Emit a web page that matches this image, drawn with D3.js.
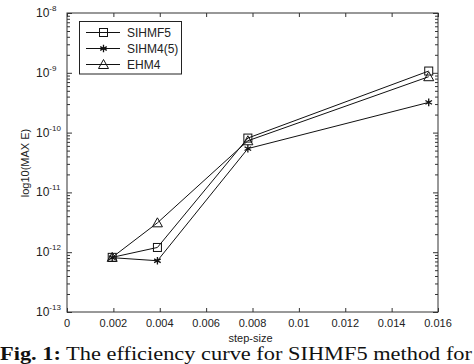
<!DOCTYPE html>
<html>
<head>
<meta charset="utf-8">
<script src="https://cdn.jsdelivr.net/npm/d3@7"></script>
<style>
body { margin: 0; background: #fff; }
svg { display: block; font-family: Arial, "Liberation Sans", sans-serif; }
</style>
</head>
<body>
<svg id="chart" width="474" height="364"></svg>
<script>
// step sizes and max errors
var stepSizes = [0.00195, 0.0039, 0.0078, 0.0156];
var sihmf5 = [8.2e-13, 1.2e-12, 8.1e-11, 1.07e-9];
var sihm45 = [8.1e-13, 7.2e-13, 5.4e-11, 3.2e-10];
var ehm4 = [8.2e-13, 3.1e-12, 7.3e-11, 8.6e-10];
var seriesNames = ['SIHMF5', 'SIHM4(5)', 'EHM4'];
var xTicks = [0, 0.002, 0.004, 0.006, 0.008, 0.01, 0.012, 0.014, 0.016];
var xLabels = ['0', '0.002', '0.004', '0.006', '0.008', '0.01', '0.012', '0.014', '0.016'];
var yTicks = [1e-13, 1e-12, 1e-11, 1e-10, 1e-9, 1e-8];
var yExps = ['-13', '-12', '-11', '-10', '-9', '-8'];

const svg = d3.select("#chart"),
  margin = {top: 13, right: 36, bottom: 52, left: 67},
  width = +svg.attr("width") - margin.left - margin.right,
  height = +svg.attr("height") - margin.top - margin.bottom,
  x = d3.scaleLinear().domain([0, 0.016]).range([0, width]),
  y = d3.scaleLog().domain([1e-13, 1e-8]).range([height, 0]),
  g = svg.append("g").attr("transform", `translate(${margin.left},${margin.top})`);

// minor log ticks
var minor = [];
yTicks.slice(0, -1).forEach(function(t){
  for (var k = 2; k <= 9; k++) minor.push(t * k);
});

function styleAxis(sel){
  sel.select(".domain").remove();
  sel.selectAll("line").attr("stroke", "#333").attr("stroke-width", 1);
}

g.append("g").attr("transform", `translate(0,${height})`)
  .call(d3.axisBottom(x).tickValues(xTicks).tickSizeInner(-4).tickSizeOuter(0).tickFormat(""))
  .call(styleAxis);
g.append("g")
  .call(d3.axisTop(x).tickValues(xTicks).tickSizeInner(-4).tickSizeOuter(0).tickFormat(""))
  .call(styleAxis);
g.append("g")
  .call(d3.axisLeft(y).tickValues(yTicks).tickSizeInner(-5).tickSizeOuter(0).tickFormat(""))
  .call(styleAxis);
g.append("g")
  .call(d3.axisLeft(y).tickValues(minor).tickSizeInner(-3).tickSizeOuter(0).tickFormat(""))
  .call(styleAxis);
g.append("g").attr("transform", `translate(${width},0)`)
  .call(d3.axisRight(y).tickValues(yTicks).tickSizeInner(-5).tickSizeOuter(0).tickFormat(""))
  .call(styleAxis);
g.append("g").attr("transform", `translate(${width},0)`)
  .call(d3.axisRight(y).tickValues(minor).tickSizeInner(-3).tickSizeOuter(0).tickFormat(""))
  .call(styleAxis);

g.append("rect")
  .attr("width", width).attr("height", height)
  .attr("fill", "none").attr("stroke", "#333").attr("stroke-width", 1);

// x tick labels
g.selectAll(".xlab").data(xTicks).enter().append("text")
  .attr("x", d => x(d)).attr("y", height + 15)
  .attr("text-anchor", "middle").attr("font-size", 11).attr("fill", "#222")
  .text((d, i) => xLabels[i]);

// y tick labels with superscript exponent
var yl = g.selectAll(".ylab").data(yTicks).enter().append("text")
  .attr("x", -31).attr("y", d => y(d) + 4)
  .attr("font-size", 12).attr("fill", "#222");
yl.append("tspan").text("10");
yl.append("tspan").attr("dy", -6).attr("font-size", 8).text((d, i) => yExps[i]);

svg.append("text")
  .attr("x", margin.left + x(0.008) - 2).attr("y", 342)
  .attr("text-anchor", "middle").attr("font-size", 11).attr("fill", "#222")
  .text("step-size");

svg.append("text")
  .attr("transform", "translate(29,163) rotate(-90)")
  .attr("text-anchor", "middle").attr("font-size", 11).attr("fill", "#222")
  .text("log10(MAX E)");

// lines
var allSeries = [sihmf5, sihm45, ehm4];
var line = d3.line().x((d, i) => x(stepSizes[i])).y(d => y(d));
allSeries.forEach(function(s){
  g.append("path").datum(s).attr("d", line)
    .attr("fill", "none").attr("stroke", "#111").attr("stroke-width", 1);
});

function drawMarker(sel, type, cx, cy){
  if (type === 0) {
    sel.append("rect").attr("x", cx - 4).attr("y", cy - 4).attr("width", 8).attr("height", 8)
      .attr("fill", "none").attr("stroke", "#111");
  } else if (type === 1) {
    sel.append("path").attr("d", d3.symbol().type(d3.symbolAsterisk).size(40)())
      .attr("transform", `translate(${cx},${cy})`)
      .attr("fill", "none").attr("stroke", "#111").attr("stroke-width", 1.3);
  } else {
    sel.append("path")
      .attr("d", `M${cx},${cy - 5}L${cx + 5},${cy + 4}L${cx - 5},${cy + 4}Z`)
      .attr("fill", "none").attr("stroke", "#111");
  }
}

allSeries.forEach(function(s, k){
  s.forEach(function(v, i){ drawMarker(g, k, x(stepSizes[i]), y(v)); });
});

// legend
var leg = svg.append("g");
leg.append("rect").attr("x", 79.5).attr("y", 21.5).attr("width", 102).attr("height", 52.5)
  .attr("fill", "#fff").attr("stroke", "#222");
seriesNames.forEach(function(name, k){
  var ly = 32.5 + k * 16;
  leg.append("line").attr("x1", 86).attr("x2", 120).attr("y1", ly).attr("y2", ly)
    .attr("stroke", "#111");
  drawMarker(leg, k, 103.5, ly);
  leg.append("text").attr("x", 127).attr("y", ly + 4.5)
    .attr("font-size", 12).attr("fill", "#222").text(name);
});

// caption
var cap = svg.append("text").attr("x", 0).attr("y", 360)
  .attr("font-family", "'Liberation Serif', 'DejaVu Serif', serif")
  .attr("font-size", 18).attr("fill", "#111")
  .attr("textLength", 472).attr("lengthAdjust", "spacingAndGlyphs");
cap.append("tspan").attr("font-weight", "bold").text("Fig. 1:");
cap.append("tspan").text(" The efficiency curve for SIHMF5 method for");
</script>
</body>
</html>
